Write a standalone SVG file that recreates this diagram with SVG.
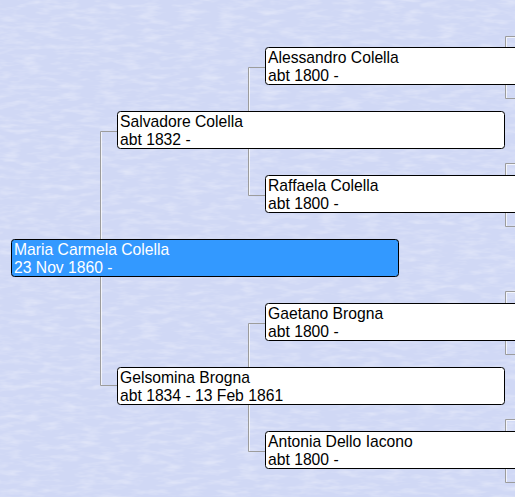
<svg xmlns="http://www.w3.org/2000/svg" width="515" height="497" viewBox="0 0 515 497">
<defs>
<filter id="tex" x="0" y="0" width="100%" height="100%">
<feTurbulence type="fractalNoise" baseFrequency="0.05 0.2" numOctaves="3" seed="4" result="n"/>
<feColorMatrix in="n" type="matrix" values="0 0 0 0 1  0 0 0 0 1  0 0 0 0 1  0 0 0 0.7 -0.3" result="w"/>
<feComposite in="w" in2="SourceGraphic" operator="in"/>
</filter>
</defs>
<style>
.bg{fill:#d0d8f5}
.ln{stroke:#9c9c9c;stroke-width:1;fill:none}
.hl{stroke:#ffffff;stroke-opacity:0.7;stroke-width:1;fill:none}
.box{fill:#ffffff;stroke:#000000;stroke-width:1}
.sel{fill:#3399ff;stroke:#000000;stroke-width:1}
text{font-family:"Liberation Sans",Arial,sans-serif;font-size:15.7px;fill:#000}
.w{fill:#ffffff}
</style>
<rect class="bg" x="0" y="0" width="515" height="497"/>
<rect x="0" y="0" width="515" height="497" fill="#d0d8f5" filter="url(#tex)"/>
<g id="connectors">
<path class="hl" d="M101.5 131.5V385.5M101.5 131.5H117M101.5 385.5H117"/>
<path class="ln" d="M100.5 131.5V385.5M100.5 131.5H117M100.5 385.5H117"/>
<path class="hl" d="M249.5 67.5V195.5M249.5 67.5H265M249.5 195.5H265M249.5 323.5V451.5M249.5 323.5H265M249.5 451.5H265"/>
<path class="ln" d="M248.5 67.5V195.5M248.5 67.5H265M248.5 195.5H265M248.5 323.5V451.5M248.5 323.5H265M248.5 451.5H265"/>
<path class="hl" d="M506.5 37.5V98.5M506.5 37.5H515M506.5 98.5H515M506.5 164.5V226.5M506.5 164.5H515M506.5 226.5H515M506.5 292.5V354.5M506.5 292.5H515M506.5 354.5H515M506.5 420.5V482.5M506.5 420.5H515M506.5 482.5H515"/>
<path class="ln" d="M505.5 36.5V98.5M505.5 36.5H515M505.5 98.5H515M505.5 163.5V226.5M505.5 163.5H515M505.5 226.5H515M505.5 291.5V354.5M505.5 291.5H515M505.5 354.5H515M505.5 419.5V482.5M505.5 419.5H515M505.5 482.5H515"/>
</g>
<g id="n-maria">
<rect class="sel" x="11.5" y="239.5" width="387" height="37" rx="3"/>
<text class="w" x="14" y="255">Maria Carmela Colella</text>
<text class="w" x="14" y="273">23 Nov 1860 -</text>
</g>
<g id="n-salvadore">
<rect class="box" x="117.5" y="111.5" width="387" height="37" rx="3"/>
<text x="120" y="127">Salvadore Colella</text>
<text x="120" y="145">abt 1832 -</text>
</g>
<g id="n-gelsomina">
<rect class="box" x="117.5" y="367.5" width="387" height="37" rx="3"/>
<text x="120" y="383">Gelsomina Brogna</text>
<text x="120" y="401">abt 1834 - 13 Feb 1861</text>
</g>
<g id="n-alessandro">
<rect class="box" x="265.5" y="47.5" width="300" height="37" rx="3"/>
<text x="268" y="63">Alessandro Colella</text>
<text x="268" y="81">abt 1800 -</text>
</g>
<g id="n-raffaela">
<rect class="box" x="265.5" y="175.5" width="300" height="37" rx="3"/>
<text x="268" y="191">Raffaela Colella</text>
<text x="268" y="209">abt 1800 -</text>
</g>
<g id="n-gaetano">
<rect class="box" x="265.5" y="303.5" width="300" height="37" rx="3"/>
<text x="268" y="319">Gaetano Brogna</text>
<text x="268" y="337">abt 1800 -</text>
</g>
<g id="n-antonia">
<rect class="box" x="265.5" y="431.5" width="300" height="37" rx="3"/>
<text x="268" y="447">Antonia Dello Iacono</text>
<text x="268" y="465">abt 1800 -</text>
</g>
</svg>
